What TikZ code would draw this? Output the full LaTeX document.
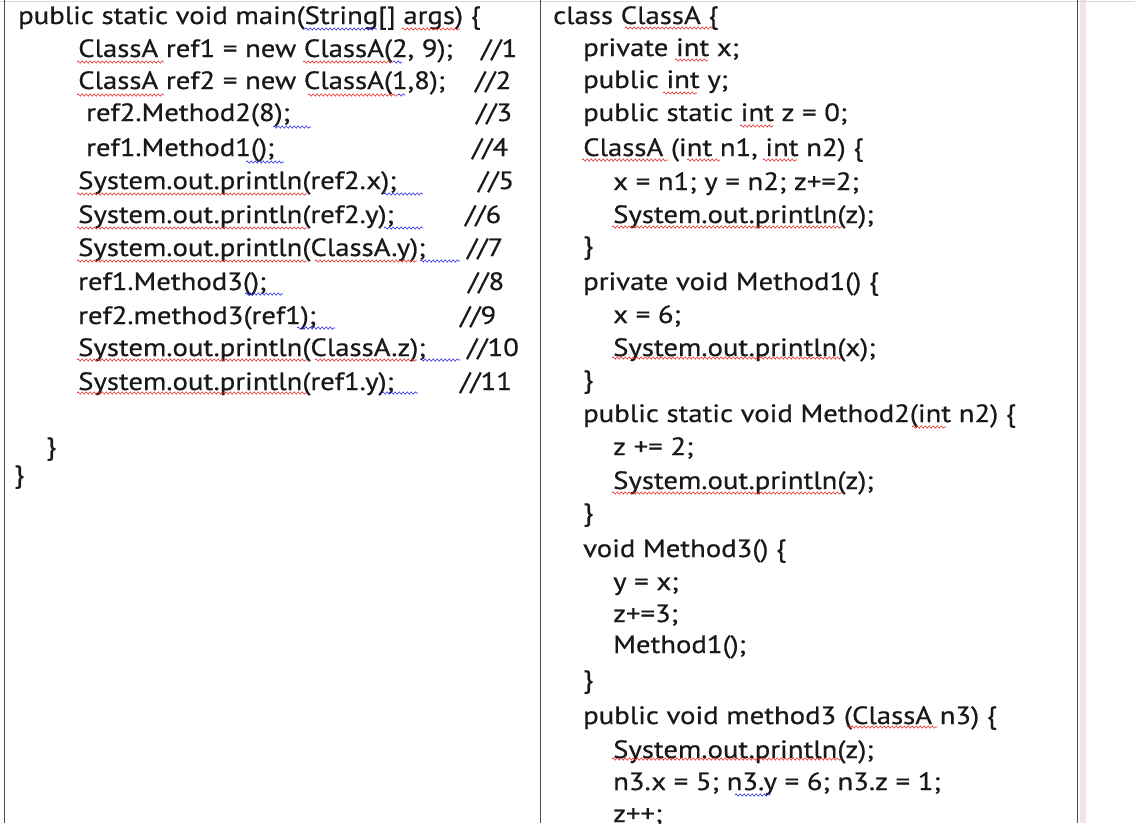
\documentclass[tikz,border=0pt]{standalone}
\usepackage{fontspec}
\setmainfont{PT Sans}[FakeStretch=1.15,FakeBold=0.6]
\usetikzlibrary{decorations.pathmorphing}
\definecolor{sqred}{RGB}{235,40,40}
\definecolor{sqblue}{RGB}{40,40,235}
\definecolor{strip}{RGB}{243,228,233}
\begin{document}
\begin{tikzpicture}[x=1pt,y=-1pt,
  code/.style={anchor=base west,inner sep=0pt,font=\fontsize{25}{25}\selectfont,text=black!90},
  sq/.style={decorate,decoration={snake,amplitude=1.1pt,segment length=4pt},line width=0.6pt}]
\useasboundingbox (0,0) rectangle (1135,823);
\fill[white] (0,0) rectangle (1135,823);
\fill[strip] (1080,0) rectangle (1086,823);
\draw[black!15] (0,1) -- (1135,1);
\draw[black!70,line width=1pt] (4,0) -- (4,823);
\draw[black!70,line width=1pt] (540,0) -- (540,823);
\draw[black!70,line width=1pt] (1077,0) -- (1077,823);
\newcommand\cl[4]{\node[code] (#1) at (#2,#3+8) {#4};}
\newcommand\sqr[4]{\draw[sq,#1] (#2,#4) -- (#3,#4);}
% left column
\cl{l0}{18}{16}{public static void main(String[] args) \{}
\cl{l1}{78}{49}{ClassA ref1 = new ClassA(2, 9);}
\cl{l2}{78}{81}{ClassA ref2 = new ClassA(1,8);}
\cl{l3}{86}{113}{ref2.Method2(8);}
\cl{l4}{86}{148}{ref1.Method1();}
\cl{l5}{78}{181}{System.out.println(ref2.x);}
\cl{l6}{78}{215}{System.out.println(ref2.y);}
\cl{l7}{78}{248}{System.out.println(ClassA.y);}
\cl{l8}{78}{282}{ref1.Method3();}
\cl{l9}{78}{316}{ref2.method3(ref1);}
\cl{l10}{78}{348}{System.out.println(ClassA.z);}
\cl{l11}{78}{382}{System.out.println(ref1.y);}
\cl{l12}{46}{447}{\}}
\cl{l13}{14}{475}{\}}
\cl{c1}{481}{49}{//1}
\cl{c2}{475}{81}{//2}
\cl{c3}{476}{113}{//3}
\cl{c4}{472}{148}{//4}
\cl{c5}{478}{181}{//5}
\cl{c6}{465}{215}{//6}
\cl{c7}{467}{248}{//7}
\cl{c8}{468}{282}{//8}
\cl{c9}{460}{316}{//9}
\cl{c10}{467}{348}{//10}
\cl{c11}{460}{382}{//11}
% right column
\cl{r0}{553}{16}{class ClassA \{}
\cl{r1}{583}{48}{private int x;}
\cl{r2}{583}{80}{public int y;}
\cl{r3}{583}{113}{public static int z = 0;}
\cl{r4}{583}{148}{ClassA (int n1, int n2) \{}
\cl{r5}{613}{182}{x = n1; y = n2; z+=2;}
\cl{r6}{613}{215}{System.out.println(z);}
\cl{r7}{583}{246}{\}}
\cl{r8}{583}{282}{private void Method1() \{}
\cl{r9}{613}{315}{x = 6;}
\cl{r10}{613}{348}{System.out.println(x);}
\cl{r11}{583}{380}{\}}
\cl{r12}{583}{414}{public static void Method2(int n2) \{}
\cl{r13}{613}{447}{z += 2;}
\cl{r14}{613}{481}{System.out.println(z);}
\cl{r15}{583}{513}{\}}
\cl{r16}{583}{549}{void Method3() \{}
\cl{r17}{613}{582}{y = x;}
\cl{r18}{613}{614}{z+=3;}
\cl{r19}{613}{645}{Method1();}
\cl{r20}{583}{680}{\}}
\cl{r21}{583}{716}{public void method3 (ClassA n3) \{}
\cl{r22}{613}{750}{System.out.println(z);}
\cl{r23}{613}{782}{n3.x = 5; n3.y = 6; n3.z = 1;}
\cl{r24}{613}{814}{z++;}
% squiggles left
\sqr{sqblue}{305}{377}{29}\sqr{sqred}{402}{460}{29}
\sqr{sqred}{77}{164}{62}\sqr{sqred}{303}{393}{62}\sqr{sqblue}{393}{402}{62}
\sqr{sqred}{77}{164}{95}\sqr{sqred}{308}{398}{95}\sqr{sqblue}{398}{405}{95}
\sqr{sqblue}{273}{311}{127}
\sqr{sqblue}{246}{284}{162}
\sqr{sqred}{77}{307}{194}\sqr{sqblue}{384}{423}{194}
\sqr{sqred}{77}{307}{228}\sqr{sqblue}{384}{423}{228}
\sqr{sqred}{77}{307}{261}\sqr{sqred}{315}{417}{261}\sqr{sqblue}{420}{460}{261}
\sqr{sqblue}{245}{283}{294}
\sqr{sqblue}{297}{335}{328}
\sqr{sqred}{77}{307}{360}\sqr{sqred}{315}{417}{360}\sqr{sqblue}{420}{460}{360}
\sqr{sqred}{77}{307}{393}\sqr{sqblue}{382}{418}{393}
% squiggles right
\sqr{sqred}{625}{712}{28}
\sqr{sqred}{675}{708}{60}
\sqr{sqred}{663}{697}{93}
\sqr{sqred}{740}{773}{126}
\sqr{sqred}{582}{668}{160}\sqr{sqred}{687}{720}{160}\sqr{sqred}{763}{797}{160}
\sqr{sqred}{612}{842}{227}
\sqr{sqred}{612}{842}{358}
\sqr{sqred}{912}{946}{427}
\sqr{sqred}{612}{842}{493}
\sqr{sqred}{847}{937}{727}
\sqr{sqred}{612}{842}{759}
\sqr{sqblue}{735}{770}{795}
\end{tikzpicture}
\end{document}
